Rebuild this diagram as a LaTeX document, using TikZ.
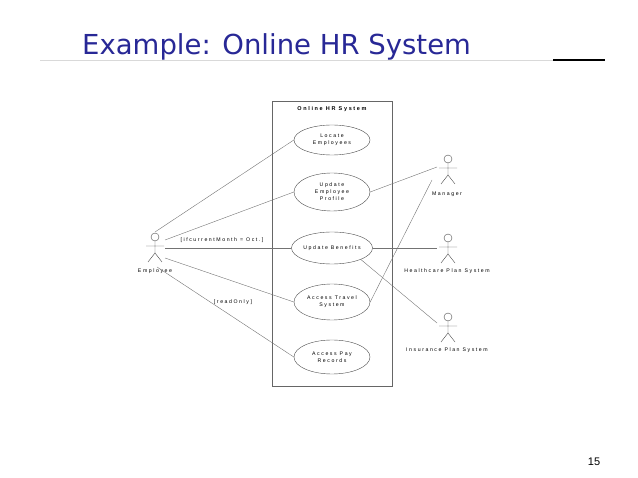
\documentclass[tikz,border=0pt]{standalone}
\usepackage{fontspec}
\setmainfont{Liberation Sans}
\newfontfamily\titlefont{DejaVu Sans}
\newfontfamily\spaced[LetterSpace=30]{Liberation Sans}
\definecolor{titleblue}{RGB}{40,40,150}
\usetikzlibrary{shapes.geometric}
\begin{document}
\begin{tikzpicture}[x=1pt,y=-1pt,
  lbl/.style={font=\spaced\fontsize{5.2}{7}\selectfont,align=center,inner sep=0pt},
  uc/.style={draw=black!70,ellipse,minimum width=76pt,lbl},
  ln/.style={draw=black!55,line width=0.4pt}]
\useasboundingbox (0,0) rectangle (638,478);
\node[anchor=base west,font=\titlefont\fontsize{27.5}{30}\selectfont,text=titleblue,inner sep=0pt] (title) at (82,55) {Example: Online HR System};
\draw[black!15,line width=0.6pt] (40,60) -- (553,60);
\draw[black,line width=1.6pt] (553,60) -- (605,60);
\node[font=\fontsize{11}{13}\selectfont] (pg) at (594,462) {15};
\node[draw=black!60,minimum width=120pt,minimum height=285pt,inner sep=0pt] (sys) at (332,243.5) {};
\node[lbl,font=\spaced\bfseries\fontsize{5.5}{7}\selectfont] (syst) at (332,109) {Online HR System};
\node[uc,minimum height=30pt] (loc) at (332,140) {Locate\\Employees};
\node[uc,minimum height=38pt] (uep) at (332,192) {Update\\Employee\\Profile};
\node[uc,minimum height=32pt] (ub) at (332,248) {Update Benefits};
\node[uc,minimum height=36pt] (at) at (332,302) {Access Travel\\System};
\node[uc,minimum height=34pt] (ap) at (332,357) {Access Pay\\Records};
\newcommand\actor[3]{%
 \draw[black!70] (#1,#2+4) circle (4);
 \draw[black!70] (#1,#2+8) -- (#1,#2+20) (#1-9,#2+13) -- (#1+9,#2+13)
   (#1-7,#2+29) -- (#1,#2+20) -- (#1+7,#2+29);
 \coordinate (#3) at (#1,#2);}
\actor{155}{233}{emp}
\actor{448}{155}{man}
\actor{448}{234}{hc}
\actor{448}{313}{ins}
\node[lbl] (empl) at (155,271) {Employee};
\node[lbl] (manl) at (447,194) {Manager};
\node[lbl] (hcl) at (447,271) {Healthcare Plan System};
\node[lbl] (insl) at (447,350) {Insurance Plan System};
\coordinate (e1) at (155,232);
\coordinate (e2) at (165,240);
\coordinate (e3) at (165,248);
\coordinate (e4) at (165,258);
\coordinate (e5) at (157,267);
\draw[ln] (e1) -- (loc.west);
\draw[ln] (e2) -- (uep.west);
\draw[ln] (e3) -- (ub.west);
\draw[ln] (e4) -- (at.west);
\draw[ln] (e5) -- (ap.west);
\node[lbl] (cond) at (222,240) {[ifcurrentMonth = Oct.]};
\node[lbl] (ro) at (233,302) {[readOnly]};
\coordinate (m1) at (437,167);
\coordinate (m2) at (432,180);
\coordinate (h1) at (437,248);
\coordinate (i1) at (437,323);
\draw[ln] (uep.east) -- (m1);
\draw[ln] (at.east) -- (m2);
\draw[ln] (ub.east) -- (h1);
\draw[ln] (ub.south east) -- (i1);
\end{tikzpicture}
\end{document}
